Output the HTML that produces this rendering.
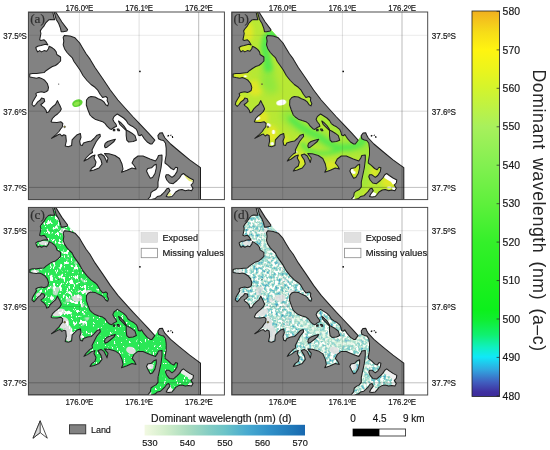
<!DOCTYPE html>
<html><head><meta charset="utf-8"><title>Dominant wavelength maps</title>
<style>html,body{margin:0;padding:0;background:#fff}svg{display:block}</style></head>
<body><svg width="550" height="450" viewBox="0 0 550 450">
<defs><clipPath id="cf"><rect x="28.4" y="12.0" width="196.0" height="187.6"/></clipPath>
<clipPath id="ch"><path d="M67.6,29.6 L67.0,30.9 L63.2,31.7 L61.2,31.7 L60.5,28.4 L58.7,23.5 L56.2,19.5 L54.2,12.0 L52.8,12.0 L53.6,16.0 L54.6,19.8 L50.5,19.5 L48.5,20.1 L46.0,22.6 L44.1,25.8 L41.5,29.0 L40.3,30.9 L40.9,33.5 L40.3,36.6 L39.6,39.8 L40.9,40.5 L44.1,39.8 L46.0,41.7 L47.9,44.9 L45.4,44.3 L42.8,44.9 L40.9,45.5 L37.7,46.2 L35.8,47.5 L36.5,50.0 L37.7,51.9 L39.6,50.6 L41.5,51.9 L44.1,50.6 L46.6,51.3 L48.5,48.7 L49.2,46.2 L51.7,47.5 L54.3,49.4 L56.2,51.9 L56.8,54.5 L58.7,55.7 L60.6,57.0 L60.6,61.0 L58.1,63.5 L55.5,65.5 L52.4,66.5 L49.2,68.5 L46.0,70.7 L44.1,72.6 L40.3,72.9 L36.5,73.4 L32.6,73.4 L29.8,74.0 L29.8,77.0 L32.6,77.6 L36.5,78.2 L39.0,77.6 L41.5,78.4 L44.7,80.3 L47.3,83.5 L48.5,87.3 L47.9,90.5 L46.0,91.7 L44.1,92.4 L41.5,91.7 L37.7,92.4 L35.8,93.6 L36.5,95.5 L34.5,98.7 L32.6,101.9 L32.0,104.5 L33.9,106.4 L35.8,104.5 L37.7,101.9 L40.3,100.0 L41.5,98.1 L44.1,98.7 L44.7,101.3 L42.8,103.2 L40.9,104.5 L41.5,105.7 L44.1,107.6 L46.0,110.2 L46.6,112.7 L48.5,112.1 L50.5,108.9 L53.0,106.4 L55.5,104.5 L57.5,100.6 L58.7,103.2 L60.0,105.7 L61.3,108.9 L60.0,111.5 L57.5,114.0 L54.9,115.9 L52.4,118.5 L51.1,121.6 L52.0,122.3 L57.0,122.5 L61.0,121.8 L62.8,123.5 L62.3,127.0 L60.6,129.0 L59.0,131.5 L55.0,135.5 L51.5,138.3 L56.0,136.0 L58.5,134.5 L60.0,134.1 L61.9,136.0 L63.8,134.7 L65.8,135.6 L66.3,141.1 L65.2,146.0 L68.3,146.8 L71.6,145.6 L72.1,139.8 L74.4,137.3 L77.2,134.7 L80.4,133.5 L81.0,137.3 L79.7,141.1 L80.4,144.9 L82.3,145.5 L83.5,143.0 L87.4,141.7 L91.2,141.1 L94.0,138.5 L97.0,135.2 L100.0,134.2 L100.3,136.5 L98.2,139.0 L96.3,141.5 L94.0,146.0 L92.0,150.0 L92.5,152.5 L90.0,154.0 L86.0,158.0 L84.0,161.0 L88.0,159.0 L92.0,156.0 L95.0,155.0 L94.0,158.0 L96.0,162.0 L95.0,166.0 L92.0,168.0 L90.0,171.0 L94.0,170.0 L99.0,168.0 L102.0,164.0 L101.0,160.0 L99.0,157.0 L98.0,155.0 L101.0,154.0 L104.0,156.0 L106.0,160.0 L107.0,162.5 L108.0,158.0 L105.5,155.0 L104.5,153.5 L109.0,153.8 L115.0,155.5 L119.5,158.5 L122.0,164.0 L123.0,169.0 L121.5,172.3 L127.0,170.3 L132.0,168.0 L136.0,169.0 L134.5,166.0 L132.0,163.0 L134.0,159.0 L138.0,156.0 L143.0,156.0 L150.0,159.0 L155.5,161.0 L157.5,158.0 L158.5,155.5 L162.0,155.0 L162.0,160.0 L161.0,168.0 L159.5,175.0 L158.0,182.0 L158.0,187.0 L156.0,189.5 L153.5,190.7 L151.0,192.6 L150.3,196.5 L147.7,199.6 L151.5,199.6 L155.4,198.4 L157.3,196.5 L160.5,195.8 L162.4,194.0 L165.0,191.4 L166.8,188.8 L168.7,188.2 L170.0,190.7 L167.5,194.0 L166.2,196.5 L168.7,197.0 L172.0,196.5 L173.8,194.5 L175.7,192.0 L179.0,190.0 L182.0,189.5 L185.3,190.7 L188.5,190.0 L191.6,190.7 L193.0,188.2 L191.0,185.0 L193.0,183.0 L193.5,180.0 L189.7,178.0 L186.0,175.5 L183.4,173.5 L181.5,174.8 L179.5,178.0 L177.0,180.5 L173.2,183.7 L169.4,183.0 L166.8,180.0 L165.5,176.7 L166.2,174.8 L168.7,174.8 L172.0,177.4 L174.5,175.5 L177.0,171.6 L177.6,167.8 L175.7,167.2 L173.8,169.7 L171.3,168.5 L168.0,165.3 L165.0,163.0 L165.0,161.5 L166.2,155.0 L166.2,148.4 L165.5,143.3 L163.5,140.5 L161.0,140.0 L158.5,138.8 L157.9,135.6 L154.8,140.2 L152.0,144.0 L150.4,144.0 L147.2,142.0 L144.0,138.3 L141.5,134.5 L140.2,135.7 L138.3,135.0 L137.6,132.0 L136.4,129.4 L133.2,126.8 L130.6,125.5 L128.0,123.6 L126.2,120.5 L123.6,118.0 L120.5,116.0 L117.3,114.0 L115.4,115.4 L114.0,116.6 L112.8,119.2 L114.0,121.7 L116.0,124.3 L116.6,126.2 L114.0,127.5 L111.5,129.4 L109.6,128.7 L107.0,126.2 L105.2,123.6 L102.6,121.7 L98.8,120.5 L95.0,119.2 L92.0,117.0 L90.0,115.0 L88.0,110.0 L86.3,105.0 L86.5,100.0 L88.5,97.5 L91.0,96.5 L95.0,97.0 L98.2,98.7 L101.4,100.0 L103.9,101.9 L105.8,104.8 L107.7,105.9 L108.5,103.5 L107.1,100.6 L107.5,98.0 L105.8,96.5 L102.6,97.5 L100.1,94.3 L97.5,89.8 L95.0,87.3 L91.0,84.5 L87.0,80.5 L83.0,75.5 L80.0,70.0 L76.5,65.0 L74.0,61.5 L72.1,57.6 L69.5,55.1 L67.0,52.5 L64.5,48.7 L63.2,44.9 L63.8,41.1 L63.2,37.3 L64.5,35.4 L70.0,36.0 L75.0,37.8Z"/><path d="M146.5,171.0 L147.7,168.5 L151.5,167.8 L154.0,165.3 L156.3,164.3 L156.3,168.0 L155.0,173.5 L152.5,177.5 L150.3,178.3 L148.4,175.0Z"/></clipPath>
<path id="land" fill-rule="evenodd" d="M28.4,12.0 L52.8,12.0 L53.6,16.0 L54.6,19.8 L50.5,19.5 L48.5,20.1 L46.0,22.6 L44.1,25.8 L41.5,29.0 L40.3,30.9 L40.9,33.5 L40.3,36.6 L39.6,39.8 L40.9,40.5 L44.1,39.8 L46.0,41.7 L47.9,44.9 L45.4,44.3 L42.8,44.9 L40.9,45.5 L37.7,46.2 L35.8,47.5 L36.5,50.0 L37.7,51.9 L39.6,50.6 L41.5,51.9 L44.1,50.6 L46.6,51.3 L48.5,48.7 L49.2,46.2 L51.7,47.5 L54.3,49.4 L56.2,51.9 L56.8,54.5 L58.7,55.7 L60.6,57.0 L60.6,61.0 L58.1,63.5 L55.5,65.5 L52.4,66.5 L49.2,68.5 L46.0,70.7 L44.1,72.6 L40.3,72.9 L36.5,73.4 L32.6,73.4 L29.8,74.0 L29.8,77.0 L32.6,77.6 L36.5,78.2 L39.0,77.6 L41.5,78.4 L44.7,80.3 L47.3,83.5 L48.5,87.3 L47.9,90.5 L46.0,91.7 L44.1,92.4 L41.5,91.7 L37.7,92.4 L35.8,93.6 L36.5,95.5 L34.5,98.7 L32.6,101.9 L32.0,104.5 L33.9,106.4 L35.8,104.5 L37.7,101.9 L40.3,100.0 L41.5,98.1 L44.1,98.7 L44.7,101.3 L42.8,103.2 L40.9,104.5 L41.5,105.7 L44.1,107.6 L46.0,110.2 L46.6,112.7 L48.5,112.1 L50.5,108.9 L53.0,106.4 L55.5,104.5 L57.5,100.6 L58.7,103.2 L60.0,105.7 L61.3,108.9 L60.0,111.5 L57.5,114.0 L54.9,115.9 L52.4,118.5 L51.1,121.6 L52.0,122.3 L57.0,122.5 L61.0,121.8 L62.8,123.5 L62.3,127.0 L60.6,129.0 L59.0,131.5 L55.0,135.5 L51.5,138.3 L56.0,136.0 L58.5,134.5 L60.0,134.1 L61.9,136.0 L63.8,134.7 L65.8,135.6 L66.3,141.1 L65.2,146.0 L68.3,146.8 L71.6,145.6 L72.1,139.8 L74.4,137.3 L77.2,134.7 L80.4,133.5 L81.0,137.3 L79.7,141.1 L80.4,144.9 L82.3,145.5 L83.5,143.0 L87.4,141.7 L91.2,141.1 L94.0,138.5 L97.0,135.2 L100.0,134.2 L100.3,136.5 L98.2,139.0 L96.3,141.5 L94.0,146.0 L92.0,150.0 L92.5,152.5 L90.0,154.0 L86.0,158.0 L84.0,161.0 L88.0,159.0 L92.0,156.0 L95.0,155.0 L94.0,158.0 L96.0,162.0 L95.0,166.0 L92.0,168.0 L90.0,171.0 L94.0,170.0 L99.0,168.0 L102.0,164.0 L101.0,160.0 L99.0,157.0 L98.0,155.0 L101.0,154.0 L104.0,156.0 L106.0,160.0 L107.0,162.5 L108.0,158.0 L105.5,155.0 L104.5,153.5 L109.0,153.8 L115.0,155.5 L119.5,158.5 L122.0,164.0 L123.0,169.0 L121.5,172.3 L127.0,170.3 L132.0,168.0 L136.0,169.0 L134.5,166.0 L132.0,163.0 L134.0,159.0 L138.0,156.0 L143.0,156.0 L150.0,159.0 L155.5,161.0 L157.5,158.0 L158.5,155.5 L162.0,155.0 L162.0,160.0 L161.0,168.0 L159.5,175.0 L158.0,182.0 L158.0,187.0 L156.0,189.5 L153.5,190.7 L151.0,192.6 L150.3,196.5 L147.7,199.6 L28.4,199.6Z M151.5,199.6 L155.4,198.4 L157.3,196.5 L160.5,195.8 L162.4,194.0 L165.0,191.4 L166.8,188.8 L168.7,188.2 L170.0,190.7 L167.5,194.0 L166.2,196.5 L168.7,197.0 L172.0,196.5 L173.8,194.5 L175.7,192.0 L179.0,190.0 L182.0,189.5 L185.3,190.7 L188.5,190.0 L191.6,190.7 L193.0,188.2 L191.0,185.0 L193.0,183.0 L193.5,180.0 L189.7,178.0 L186.0,175.5 L183.4,173.5 L181.5,174.8 L179.5,178.0 L177.0,180.5 L173.2,183.7 L169.4,183.0 L166.8,180.0 L165.5,176.7 L166.2,174.8 L168.7,174.8 L172.0,177.4 L174.5,175.5 L177.0,171.6 L177.6,167.8 L175.7,167.2 L173.8,169.7 L171.3,168.5 L168.0,165.3 L165.0,163.0 L165.0,161.5 L166.2,155.0 L166.2,148.4 L165.5,143.3 L163.5,140.5 L161.0,140.0 L158.5,138.8 L157.9,135.6 L159.8,133.0 L162.4,132.8 L163.6,135.6 L165.0,138.0 L170.6,144.0 L179.5,151.5 L189.7,159.8 L200.5,167.7 L200.5,199.6Z M154.8,140.2 L152.0,144.0 L150.4,144.0 L147.2,142.0 L144.0,138.3 L141.5,134.5 L140.2,135.7 L138.3,135.0 L137.6,132.0 L136.4,129.4 L133.2,126.8 L130.6,125.5 L128.0,123.6 L126.2,120.5 L123.6,118.0 L120.5,116.0 L117.3,114.0 L115.4,115.4 L114.0,116.6 L112.8,119.2 L114.0,121.7 L116.0,124.3 L116.6,126.2 L114.0,127.5 L111.5,129.4 L109.6,128.7 L107.0,126.2 L105.2,123.6 L102.6,121.7 L98.8,120.5 L95.0,119.2 L92.0,117.0 L90.0,115.0 L88.0,110.0 L86.3,105.0 L86.5,100.0 L88.5,97.5 L91.0,96.5 L95.0,97.0 L98.2,98.7 L101.4,100.0 L103.9,101.9 L105.8,104.8 L107.7,105.9 L108.5,103.5 L107.1,100.6 L107.5,98.0 L105.8,96.5 L102.6,97.5 L100.1,94.3 L97.5,89.8 L95.0,87.3 L91.0,84.5 L87.0,80.5 L83.0,75.5 L80.0,70.0 L76.5,65.0 L74.0,61.5 L72.1,57.6 L69.5,55.1 L67.0,52.5 L64.5,48.7 L63.2,44.9 L63.8,41.1 L63.2,37.3 L64.5,35.4 L70.0,36.0 L75.0,37.8 L79.7,43.0 L82.3,47.5 L86.1,53.8 L89.9,58.9 L95.0,67.5 L102.6,78.5 L110.3,90.0 L117.9,100.0 L125.5,108.5 L133.2,117.0 L139.5,123.6 L148.5,133.2Z M54.2,12.0 L55.7,12.0 L61.9,22.0 L67.6,29.6 L67.0,30.9 L63.2,31.7 L61.2,31.7 L60.5,28.4 L58.7,23.5 L56.2,19.5Z M126.2,130.0 L128.7,131.3 L131.9,133.2 L135.0,135.7 L136.4,140.2 L133.2,141.5 L128.7,142.0 L126.8,140.2 L126.2,135.7Z M118.5,121.0 L120.5,122.4 L123.6,125.5 L126.2,129.4 L125.5,130.0 L122.4,126.8 L119.8,124.3Z M104.5,146.0 L105.2,143.4 L107.7,141.5 L111.5,140.2 L115.4,139.2 L114.0,141.5 L110.3,144.6 L107.0,147.2 L105.2,147.8Z M113.3,129.5 L114.8,129.3 L114.8,130.8 L113.3,130.8Z M117.2,129.0 L118.8,129.0 L119.6,130.8 L118.0,130.8Z M146.5,171.0 L147.7,168.5 L151.5,167.8 L154.0,165.3 L156.3,164.3 L156.3,168.0 L155.0,173.5 L152.5,177.5 L150.3,178.3 L148.4,175.0Z" fill="#828282" stroke="#1e1e1e" stroke-width="1.05" stroke-linejoin="round"/>
<path id="lag" d="M146.5,171.0 L147.7,168.5 L151.5,167.8 L154.0,165.3 L156.3,164.3 L156.3,168.0 L155.0,173.5 L152.5,177.5 L150.3,178.3 L148.4,175.0Z" stroke="#1e1e1e" stroke-width="0.7" stroke-linejoin="round"/>
<linearGradient id="gv" x1="0" y1="0" x2="0" y2="1"><stop offset="0" stop-color="#f0b020"/><stop offset="0.03" stop-color="#f4c81c"/><stop offset="0.055" stop-color="#f6dc18"/><stop offset="0.1" stop-color="#fff410"/><stop offset="0.15" stop-color="#ecf41c"/><stop offset="0.2" stop-color="#d4f42c"/><stop offset="0.3" stop-color="#a8f05c"/><stop offset="0.4" stop-color="#82f050"/><stop offset="0.5" stop-color="#5ef03c"/><stop offset="0.6" stop-color="#34f02a"/><stop offset="0.7" stop-color="#1ef01e"/><stop offset="0.776" stop-color="#0cf01c"/><stop offset="0.8" stop-color="#10ee30"/><stop offset="0.84" stop-color="#10f070"/><stop offset="0.872" stop-color="#10f0c0"/><stop offset="0.8975" stop-color="#10e8f8"/><stop offset="0.93" stop-color="#30a8e0"/><stop offset="0.962" stop-color="#4060c0"/><stop offset="0.988" stop-color="#4030a0"/><stop offset="1" stop-color="#3c2c9c"/></linearGradient>
<linearGradient id="gh" x1="0" y1="0" x2="1" y2="0"><stop offset="0" stop-color="#f2f9e2"/><stop offset="0.13" stop-color="#d2eecb"/><stop offset="0.27" stop-color="#aadcc0"/><stop offset="0.41" stop-color="#82ccc4"/><stop offset="0.5" stop-color="#6cc4c8"/><stop offset="0.64" stop-color="#48aad0"/><stop offset="0.78" stop-color="#3090c8"/><stop offset="0.92" stop-color="#2078b8"/><stop offset="1" stop-color="#1868b0"/></linearGradient>
<filter id="b2" x="-20%" y="-20%" width="140%" height="140%"><feGaussianBlur stdDeviation="1.9"/></filter>
<filter id="b3" x="-20%" y="-20%" width="140%" height="140%"><feGaussianBlur stdDeviation="3.5"/></filter>
<filter id="b05" x="-20%" y="-20%" width="140%" height="140%"><feGaussianBlur stdDeviation="0.45"/></filter>
<filter id="b1" x="-20%" y="-20%" width="140%" height="140%"><feGaussianBlur stdDeviation="1"/></filter>
<filter id="nd" x="0" y="0" width="100%" height="100%" color-interpolation-filters="sRGB">
<feTurbulence type="fractalNoise" baseFrequency="0.36" numOctaves="2" seed="3" result="t"/>
<feColorMatrix type="matrix" values="1.9 0 0 0 -0.37  1.9 0 0 0 -0.37  1.9 0 0 0 -0.37  0 0 0 0 1"/>
<feComponentTransfer>
<feFuncR type="discrete" tableValues="0.290 0.365 0.431 0.482 0.549 0.627 0.722 0.831 0.941 1.000 1.000"/>
<feFuncG type="discrete" tableValues="0.624 0.714 0.761 0.800 0.824 0.855 0.890 0.933 0.976 1.000 1.000"/>
<feFuncB type="discrete" tableValues="0.792 0.800 0.800 0.784 0.800 0.808 0.824 0.867 0.941 1.000 1.000"/>
</feComponentTransfer></filter>
<filter id="nc" x="0" y="0" width="100%" height="100%" color-interpolation-filters="sRGB">
<feTurbulence type="fractalNoise" baseFrequency="0.42 0.3" numOctaves="2" seed="7" result="t"/>
<feColorMatrix type="matrix" values="0 0 0 0 1  0 0 0 0 1  0 0 0 0 1  16 0 0 0 -10.5"/>
</filter>
<filter id="nc2" x="0" y="0" width="100%" height="100%" color-interpolation-filters="sRGB">
<feTurbulence type="fractalNoise" baseFrequency="0.3 0.2" numOctaves="2" seed="23" result="t"/>
<feColorMatrix type="matrix" values="0 0 0 0 1  0 0 0 0 1  0 0 0 0 1  14 0 0 0 -8.3"/>
</filter>
<filter id="ng" x="0" y="0" width="100%" height="100%" color-interpolation-filters="sRGB">
<feTurbulence type="fractalNoise" baseFrequency="0.1" numOctaves="2" seed="11" result="t"/>
<feColorMatrix type="matrix" values="0 0 0 0 0.86  0 0 0 0 0.86  0 0 0 0 0.86  0 12 0 0 -7.9"/>
</filter></defs>
<rect width="550" height="450" fill="#fff"/>
<g transform="translate(0.0,0.0)"><g clip-path="url(#cf)"><rect x="28.4" y="12.0" width="196.0" height="187.6" fill="#fff"/><ellipse cx="77.4" cy="103.2" rx="5.4" ry="3.6" transform="rotate(-20 77.4 103.2)" fill="#62d436"/><ellipse cx="77" cy="103.6" rx="3.2" ry="1.7" transform="rotate(-20 77 103.6)" fill="#8ee648"/><path d="M184,175 L188,176.5 L192,179.5 L193,182 L189,181 L186,178Z" fill="#e6ea5a" opacity="0.8"/><path d="M167,194 L170,192.5 L172,195 L168,196.5Z" fill="#eaf07a" opacity="0.8"/><use href="#land"/><rect x="139.1" y="70.7" width="1.6" height="1.5" fill="#111"/><circle cx="58.7" cy="84.1" r="0.6" fill="#444"/><circle cx="64.6" cy="126.8" r="0.9" fill="#9a8c34" stroke="#2a2a2a" stroke-width="0.5"/><path d="M167.5,136.2 l1.5,-0.8 M170.5,135 l0.8,0.6 M172.3,136.2 l0.4,1.6" stroke="#000" stroke-width="1.2" fill="none"/><g stroke="#000" stroke-width="0.6"><line x1="79.4" y1="12.0" x2="79.4" y2="199.6" stroke-opacity="0.20"/><line x1="139.1" y1="12.0" x2="139.1" y2="199.6" stroke-opacity="0.22"/><line x1="198.7" y1="12.0" x2="198.7" y2="199.6" stroke-opacity="0.45"/><line x1="28.4" y1="35.3" x2="224.4" y2="35.3" stroke-opacity="0.14"/><line x1="28.4" y1="111.2" x2="224.4" y2="111.2" stroke-opacity="0.26"/><line x1="28.4" y1="187.4" x2="224.4" y2="187.4" stroke-opacity="0.42"/></g><text x="30.2" y="23.2" font-family="'Liberation Serif',serif" font-size="13.2" fill="#2e2e2e" stroke="#2e2e2e" stroke-width="0.2">(a)</text></g><rect x="28.4" y="12.0" width="196.0" height="187.6" fill="none" stroke="#444" stroke-width="0.95"/></g>
<g transform="translate(203.3,0.0)"><g clip-path="url(#cf)"><rect x="28.4" y="12.0" width="196.0" height="187.6" fill="#fff"/><g clip-path="url(#ch)"><rect x="28.4" y="12.0" width="196.0" height="187.6" fill="#b8e834"/><g filter="url(#b2)" fill="#e0e826"><ellipse cx="45.0" cy="32.0" rx="5.0" ry="10.0"/><ellipse cx="41.0" cy="48.0" rx="6.0" ry="3.0"/><ellipse cx="37.0" cy="75.0" rx="9.0" ry="3.0"/><ellipse cx="52.0" cy="88.0" rx="8.0" ry="8.0"/><ellipse cx="38.0" cy="100.0" rx="6.0" ry="4.0"/><ellipse cx="58.0" cy="118.0" rx="7.0" ry="8.0"/><ellipse cx="68.0" cy="134.0" rx="7.0" ry="9.0"/><ellipse cx="82.0" cy="140.0" rx="3.0" ry="5.0"/><ellipse cx="170.0" cy="172.0" rx="5.0" ry="5.0"/><ellipse cx="186.0" cy="182.0" rx="8.0" ry="6.0"/><ellipse cx="152.0" cy="172.0" rx="4.0" ry="5.0"/><ellipse cx="95.0" cy="160.0" rx="8.0" ry="7.0"/><ellipse cx="97.0" cy="140.0" rx="3.0" ry="5.0"/><ellipse cx="128.0" cy="165.0" rx="6.0" ry="4.0"/><ellipse cx="160.0" cy="192.0" rx="5.0" ry="5.0"/></g><g filter="url(#b3)" fill="none" stroke-linecap="round" stroke-linejoin="round"><path d="M62,66 L60,86 M66,66 L72,90 M64,70 L66,92" stroke="#90e83e" stroke-width="6"/><path d="M84,116 L95,125 L105,131 L115,136 L125,143 L135,147 L146,147 L156,145 L161,141" stroke="#90e83e" stroke-width="13"/><path d="M162,148 L164,162 L162,176 L160,188 L156,196" stroke="#90e83e" stroke-width="5"/></g><g filter="url(#b2)" fill="none" stroke-linecap="round" stroke-linejoin="round"><path d="M74,35 L67.5,33.5 L63,39 L61.5,48 L63.5,58 L65,68" stroke="#54e84e" stroke-width="8.5"/><path d="M88,119 L96,126 L105,131.5 L115,136 L125,143 L135,147.5 L146,147.5 L155,145 L160,141 L160,137" stroke="#54e84e" stroke-width="5.5"/><path d="M98,143 L104,150 L115,153.5 L125,153 L136,150" stroke="#54e84e" stroke-width="3.5"/><path d="M118,118 L125,124 L134,130 L140,138" stroke="#90e83e" stroke-width="2.5"/></g><g fill="#fff" filter="url(#b05)"><ellipse cx="78.0" cy="102.6" rx="5.0" ry="2.8" transform="rotate(-12 78.0 102.6)"/><ellipse cx="54.3" cy="118.3" rx="2.6" ry="1.8" transform="rotate(-20 54.3 118.3)"/><ellipse cx="65.3" cy="125.0" rx="2.4" ry="1.6" transform="rotate(30 65.3 125.0)"/><ellipse cx="70.2" cy="132.0" rx="1.6" ry="2.2" transform="rotate(0 70.2 132.0)"/><ellipse cx="69.0" cy="143.8" rx="1.8" ry="1.8" transform="rotate(0 69.0 143.8)"/><ellipse cx="42.0" cy="76.3" rx="1.6" ry="1.0" transform="rotate(0 42.0 76.3)"/><ellipse cx="189.5" cy="177.5" rx="4.5" ry="2.0" transform="rotate(30 189.5 177.5)"/><ellipse cx="150.5" cy="172.5" rx="1.8" ry="1.5" transform="rotate(0 150.5 172.5)"/><ellipse cx="168.0" cy="194.5" rx="1.5" ry="1.2" transform="rotate(0 168.0 194.5)"/><ellipse cx="186.0" cy="187.5" rx="2.5" ry="1.0" transform="rotate(0 186.0 187.5)"/><ellipse cx="93.0" cy="152.0" rx="1.0" ry="1.3" transform="rotate(0 93.0 152.0)"/><ellipse cx="147.5" cy="199.0" rx="2.0" ry="1.0" transform="rotate(0 147.5 199.0)"/></g><g fill="#fff" opacity="1" filter="url(#b05)"><path d="M180,174.8 L183.2,173 L187.6,175.6 L193.5,180 L192.6,183.9 L189.5,184.4 L187.6,181.8 L184.4,179.9 L181.2,178Z"/><path d="M166.5,194 L170,192 L173,193.5 L172,196.8 L167,197.2Z"/><path d="M188.9,187 L192.7,187.5 L192.5,190.7 L189,190.5Z"/><path d="M146.8,170.8 L148,168.6 L150.5,169.5 L150,172.5 L148.2,173.5Z"/><path d="M147.7,199.6 L150,196 L151.5,196.5 L151,199.6Z"/></g><circle cx="58.7" cy="84.1" r="0.7" fill="#7a5a30"/></g><use href="#land"/><rect x="139.1" y="70.7" width="1.6" height="1.5" fill="#111"/><circle cx="58.7" cy="84.1" r="0.6" fill="#444"/><circle cx="64.6" cy="126.8" r="0.9" fill="#9a8c34" stroke="#2a2a2a" stroke-width="0.5"/><path d="M167.5,136.2 l1.5,-0.8 M170.5,135 l0.8,0.6 M172.3,136.2 l0.4,1.6" stroke="#000" stroke-width="1.2" fill="none"/><g stroke="#000" stroke-width="0.6"><line x1="79.4" y1="12.0" x2="79.4" y2="199.6" stroke-opacity="0.20"/><line x1="139.1" y1="12.0" x2="139.1" y2="199.6" stroke-opacity="0.22"/><line x1="198.7" y1="12.0" x2="198.7" y2="199.6" stroke-opacity="0.45"/><line x1="28.4" y1="35.3" x2="224.4" y2="35.3" stroke-opacity="0.14"/><line x1="28.4" y1="111.2" x2="224.4" y2="111.2" stroke-opacity="0.26"/><line x1="28.4" y1="187.4" x2="224.4" y2="187.4" stroke-opacity="0.42"/></g><text x="30.2" y="23.2" font-family="'Liberation Serif',serif" font-size="13.2" fill="#2e2e2e" stroke="#2e2e2e" stroke-width="0.2">(b)</text></g><rect x="28.4" y="12.0" width="196.0" height="187.6" fill="none" stroke="#444" stroke-width="0.95"/></g>
<g transform="translate(0.0,195.4)"><g clip-path="url(#cf)"><rect x="28.4" y="12.0" width="196.0" height="187.6" fill="#fff"/><g clip-path="url(#ch)"><rect x="28.4" y="12.0" width="196.0" height="187.6" fill="#2ae856"/><g fill="#dedede" opacity="1" filter="url(#b05)"><ellipse cx="77.3" cy="102.8" rx="5.0" ry="3.6" transform="rotate(-10 77.3 102.8)"/><ellipse cx="58.5" cy="117.0" rx="7.0" ry="3.6" transform="rotate(-15 58.5 117.0)"/><ellipse cx="63.5" cy="127.5" rx="5.5" ry="6.0" transform="rotate(0 63.5 127.5)"/><ellipse cx="68.5" cy="138.0" rx="4.2" ry="8.0" transform="rotate(0 68.5 138.0)"/><ellipse cx="54.0" cy="108.0" rx="2.5" ry="4.0" transform="rotate(20 54.0 108.0)"/><ellipse cx="88.5" cy="96.3" rx="3.5" ry="1.8" transform="rotate(0 88.5 96.3)"/><ellipse cx="40.0" cy="99.5" rx="4.0" ry="2.5" transform="rotate(0 40.0 99.5)"/><ellipse cx="35.0" cy="76.0" rx="4.0" ry="1.3" transform="rotate(0 35.0 76.0)"/><ellipse cx="80.5" cy="140.0" rx="1.6" ry="4.5" transform="rotate(0 80.5 140.0)"/><ellipse cx="131.0" cy="155.0" rx="5.0" ry="3.5" transform="rotate(20 131.0 155.0)"/><ellipse cx="150.5" cy="171.0" rx="3.0" ry="3.0" transform="rotate(0 150.5 171.0)"/><ellipse cx="44.0" cy="47.5" rx="5.0" ry="2.0" transform="rotate(0 44.0 47.5)"/><ellipse cx="97.0" cy="139.0" rx="1.6" ry="3.0" transform="rotate(30 97.0 139.0)"/><ellipse cx="103.0" cy="159.0" rx="1.5" ry="3.0" transform="rotate(0 103.0 159.0)"/><ellipse cx="92.0" cy="165.0" rx="2.5" ry="2.0" transform="rotate(0 92.0 165.0)"/></g><rect x="28.4" y="12.0" width="70.0" height="187.6" filter="url(#ng)" opacity="0.8"/><rect x="28.4" y="12.0" width="196.0" height="187.6" filter="url(#nc)"/><rect x="28.4" y="12.0" width="58.0" height="150.0" filter="url(#nc2)"/><g fill="#ececec" opacity="1" filter="url(#b05)"><path d="M180,174.8 L183.2,173 L187.6,175.6 L193.5,180 L192.6,183.9 L189.5,184.4 L187.6,181.8 L184.4,179.9 L181.2,178Z"/><path d="M166.5,194 L170,192 L173,193.5 L172,196.8 L167,197.2Z"/><path d="M188.9,187 L192.7,187.5 L192.5,190.7 L189,190.5Z"/><path d="M146.8,170.8 L148,168.6 L150.5,169.5 L150,172.5 L148.2,173.5Z"/><path d="M147.7,199.6 L150,196 L151.5,196.5 L151,199.6Z"/></g></g><use href="#land"/><rect x="139.1" y="70.7" width="1.6" height="1.5" fill="#111"/><circle cx="58.7" cy="84.1" r="0.6" fill="#444"/><circle cx="64.6" cy="126.8" r="0.9" fill="#9a8c34" stroke="#2a2a2a" stroke-width="0.5"/><path d="M167.5,136.2 l1.5,-0.8 M170.5,135 l0.8,0.6 M172.3,136.2 l0.4,1.6" stroke="#000" stroke-width="1.2" fill="none"/><g stroke="#000" stroke-width="0.6"><line x1="79.4" y1="12.0" x2="79.4" y2="199.6" stroke-opacity="0.20"/><line x1="139.1" y1="12.0" x2="139.1" y2="199.6" stroke-opacity="0.22"/><line x1="198.7" y1="12.0" x2="198.7" y2="199.6" stroke-opacity="0.45"/><line x1="28.4" y1="35.3" x2="224.4" y2="35.3" stroke-opacity="0.14"/><line x1="28.4" y1="111.2" x2="224.4" y2="111.2" stroke-opacity="0.26"/><line x1="28.4" y1="187.4" x2="224.4" y2="187.4" stroke-opacity="0.42"/></g><text x="30.2" y="23.2" font-family="'Liberation Serif',serif" font-size="13.2" fill="#2e2e2e" stroke="#2e2e2e" stroke-width="0.2">(c)</text></g><rect x="28.4" y="12.0" width="196.0" height="187.6" fill="none" stroke="#444" stroke-width="0.95"/></g>
<g transform="translate(203.3,195.4)"><g clip-path="url(#cf)"><rect x="28.4" y="12.0" width="196.0" height="187.6" fill="#fff"/><g clip-path="url(#ch)"><rect x="28.4" y="12.0" width="196.0" height="187.6" filter="url(#nd)"/><g filter="url(#b2)" fill="none" stroke="#d2f0d6" stroke-opacity="0.62" stroke-linecap="round" stroke-linejoin="round"><path d="M92,122 L105,131.5 L115,136 L125,143 L135,147.5 L146,147.5 L155,145 L160,141 L160,137" stroke-width="6"/><path d="M98,143 L104,150 L115,153.5 L125,153 L136,150" stroke-width="3.5"/><path d="M72,34 L66,35 L62,42 L62,52 L64,62" stroke-width="4"/><path d="M162,148 L164,162 L162,176 L160,188" stroke-width="3"/></g><g fill="#e2e2e2" opacity="0.9" filter="url(#b05)"><ellipse cx="77.3" cy="102.8" rx="5.0" ry="3.6" transform="rotate(-10 77.3 102.8)"/><ellipse cx="58.5" cy="117.0" rx="7.0" ry="3.6" transform="rotate(-15 58.5 117.0)"/><ellipse cx="63.5" cy="127.5" rx="5.5" ry="6.0" transform="rotate(0 63.5 127.5)"/><ellipse cx="68.5" cy="138.0" rx="4.2" ry="8.0" transform="rotate(0 68.5 138.0)"/><ellipse cx="54.0" cy="108.0" rx="2.5" ry="4.0" transform="rotate(20 54.0 108.0)"/><ellipse cx="88.5" cy="96.3" rx="3.5" ry="1.8" transform="rotate(0 88.5 96.3)"/><ellipse cx="40.0" cy="99.5" rx="4.0" ry="2.5" transform="rotate(0 40.0 99.5)"/><ellipse cx="35.0" cy="76.0" rx="4.0" ry="1.3" transform="rotate(0 35.0 76.0)"/><ellipse cx="80.5" cy="140.0" rx="1.6" ry="4.5" transform="rotate(0 80.5 140.0)"/><ellipse cx="131.0" cy="155.0" rx="5.0" ry="3.5" transform="rotate(20 131.0 155.0)"/><ellipse cx="150.5" cy="171.0" rx="3.0" ry="3.0" transform="rotate(0 150.5 171.0)"/><ellipse cx="44.0" cy="47.5" rx="5.0" ry="2.0" transform="rotate(0 44.0 47.5)"/><ellipse cx="97.0" cy="139.0" rx="1.6" ry="3.0" transform="rotate(30 97.0 139.0)"/><ellipse cx="103.0" cy="159.0" rx="1.5" ry="3.0" transform="rotate(0 103.0 159.0)"/><ellipse cx="92.0" cy="165.0" rx="2.5" ry="2.0" transform="rotate(0 92.0 165.0)"/></g><rect x="28.4" y="12.0" width="70.0" height="187.6" filter="url(#ng)" opacity="0.7"/><g fill="#f0f0f0" opacity="1" filter="url(#b05)"><path d="M180,174.8 L183.2,173 L187.6,175.6 L193.5,180 L192.6,183.9 L189.5,184.4 L187.6,181.8 L184.4,179.9 L181.2,178Z"/><path d="M166.5,194 L170,192 L173,193.5 L172,196.8 L167,197.2Z"/><path d="M188.9,187 L192.7,187.5 L192.5,190.7 L189,190.5Z"/><path d="M146.8,170.8 L148,168.6 L150.5,169.5 L150,172.5 L148.2,173.5Z"/><path d="M147.7,199.6 L150,196 L151.5,196.5 L151,199.6Z"/></g></g><use href="#land"/><rect x="139.1" y="70.7" width="1.6" height="1.5" fill="#111"/><circle cx="58.7" cy="84.1" r="0.6" fill="#444"/><circle cx="64.6" cy="126.8" r="0.9" fill="#9a8c34" stroke="#2a2a2a" stroke-width="0.5"/><path d="M167.5,136.2 l1.5,-0.8 M170.5,135 l0.8,0.6 M172.3,136.2 l0.4,1.6" stroke="#000" stroke-width="1.2" fill="none"/><g stroke="#000" stroke-width="0.6"><line x1="79.4" y1="12.0" x2="79.4" y2="199.6" stroke-opacity="0.20"/><line x1="139.1" y1="12.0" x2="139.1" y2="199.6" stroke-opacity="0.22"/><line x1="198.7" y1="12.0" x2="198.7" y2="199.6" stroke-opacity="0.45"/><line x1="28.4" y1="35.3" x2="224.4" y2="35.3" stroke-opacity="0.14"/><line x1="28.4" y1="111.2" x2="224.4" y2="111.2" stroke-opacity="0.26"/><line x1="28.4" y1="187.4" x2="224.4" y2="187.4" stroke-opacity="0.42"/></g><text x="30.2" y="23.2" font-family="'Liberation Serif',serif" font-size="13.2" fill="#2e2e2e" stroke="#2e2e2e" stroke-width="0.2">(d)</text></g><rect x="28.4" y="12.0" width="196.0" height="187.6" fill="none" stroke="#444" stroke-width="0.95"/></g>
<g font-family="'Liberation Sans',sans-serif" stroke="#161616" stroke-width="0.18"><text transform="translate(65.50,10.60) scale(0.9253,1)" font-size="8.5" fill="#161616" >176.0ºE</text><text transform="translate(65.50,404.90) scale(0.9253,1)" font-size="8.5" fill="#161616" >176.0ºE</text><text transform="translate(125.20,10.60) scale(0.9253,1)" font-size="8.5" fill="#161616" >176.1ºE</text><text transform="translate(125.20,404.90) scale(0.9253,1)" font-size="8.5" fill="#161616" >176.1ºE</text><text transform="translate(185.00,10.60) scale(0.9253,1)" font-size="8.5" fill="#161616" >176.2ºE</text><text transform="translate(185.00,404.90) scale(0.9253,1)" font-size="8.5" fill="#161616" >176.2ºE</text><text transform="translate(268.80,10.60) scale(0.9253,1)" font-size="8.5" fill="#161616" >176.0ºE</text><text transform="translate(268.80,404.90) scale(0.9253,1)" font-size="8.5" fill="#161616" >176.0ºE</text><text transform="translate(328.50,10.60) scale(0.9253,1)" font-size="8.5" fill="#161616" >176.1ºE</text><text transform="translate(328.50,404.90) scale(0.9253,1)" font-size="8.5" fill="#161616" >176.1ºE</text><text transform="translate(388.30,10.60) scale(0.9253,1)" font-size="8.5" fill="#161616" >176.2ºE</text><text transform="translate(388.30,404.90) scale(0.9253,1)" font-size="8.5" fill="#161616" >176.2ºE</text><text transform="translate(3.30,38.70) scale(0.9321,1)" font-size="8.5" fill="#161616" >37.5ºS</text><text transform="translate(431.80,38.70) scale(0.9558,1)" font-size="8.5" fill="#161616" >37.5ºS</text><text transform="translate(3.30,114.60) scale(0.9321,1)" font-size="8.5" fill="#161616" >37.6ºS</text><text transform="translate(431.80,114.60) scale(0.9558,1)" font-size="8.5" fill="#161616" >37.6ºS</text><text transform="translate(3.30,190.80) scale(0.9321,1)" font-size="8.5" fill="#161616" >37.7ºS</text><text transform="translate(431.80,190.80) scale(0.9558,1)" font-size="8.5" fill="#161616" >37.7ºS</text><text transform="translate(3.30,234.10) scale(0.9321,1)" font-size="8.5" fill="#161616" >37.5ºS</text><text transform="translate(431.80,234.10) scale(0.9558,1)" font-size="8.5" fill="#161616" >37.5ºS</text><text transform="translate(3.30,310.00) scale(0.9321,1)" font-size="8.5" fill="#161616" >37.6ºS</text><text transform="translate(431.80,310.00) scale(0.9558,1)" font-size="8.5" fill="#161616" >37.6ºS</text><text transform="translate(3.30,386.20) scale(0.9321,1)" font-size="8.5" fill="#161616" >37.7ºS</text><text transform="translate(431.80,386.20) scale(0.9558,1)" font-size="8.5" fill="#161616" >37.7ºS</text><rect x="141.0" y="232.5" width="16.6" height="9.8" fill="#e0e0e0" stroke="#d2d2d2" stroke-width="0.6"/><rect x="141.2" y="248.3" width="16.4" height="9.4" fill="#fff" stroke="#8a8a8a" stroke-width="0.8"/><text transform="translate(162.40,241.40) scale(0.9334,1)" font-size="9.8" fill="#161616" >Exposed</text><text transform="translate(162.40,256.40) scale(0.9584,1)" font-size="9.8" fill="#161616" >Missing values</text><rect x="344.3" y="232.5" width="16.6" height="9.8" fill="#e0e0e0" stroke="#d2d2d2" stroke-width="0.6"/><rect x="344.5" y="248.3" width="16.4" height="9.4" fill="#fff" stroke="#8a8a8a" stroke-width="0.8"/><text transform="translate(365.70,241.40) scale(0.9334,1)" font-size="9.8" fill="#161616" >Exposed</text><text transform="translate(365.70,256.40) scale(0.9584,1)" font-size="9.8" fill="#161616" >Missing values</text><path d="M40.2,420.8 L33,438.2 L40.2,432.6 L47.3,438.2Z" fill="#fff" stroke="#222" stroke-width="0.8" stroke-linejoin="miter"/><path d="M40.2,420.8 L33,438.2 L40.2,432.6Z" fill="#d8d8d8" stroke="#222" stroke-width="0.8"/><rect x="69.5" y="424.8" width="16.2" height="9" fill="#828282" stroke="#3a3a3a" stroke-width="1"/><text transform="translate(90.90,433.00) scale(0.9081,1)" font-size="9.9" fill="#161616" >Land</text><text transform="translate(151.10,421.80) scale(1.0241,1)" font-size="10.2" fill="#161616" >Dominant wavelength (nm) (d)</text><rect x="144.6" y="424.8" width="160.4" height="10.7" fill="url(#gh)" stroke="none"/><text transform="translate(142.25,446.10) scale(0.9652,1)" font-size="9.5" fill="#161616" >530</text><text transform="translate(179.80,446.10) scale(0.9652,1)" font-size="9.5" fill="#161616" >540</text><text transform="translate(217.35,446.10) scale(0.9652,1)" font-size="9.5" fill="#161616" >550</text><text transform="translate(254.90,446.10) scale(0.9652,1)" font-size="9.5" fill="#161616" >560</text><text transform="translate(292.45,446.10) scale(0.9652,1)" font-size="9.5" fill="#161616" >570</text><text x="353.0" y="422.2" font-size="10.0" text-anchor="middle" fill="#161616" >0</text><text transform="translate(372.80,422.20) scale(0.9927,1)" font-size="10.0" fill="#161616" >4.5</text><text transform="translate(403.00,422.20) scale(0.9968,1)" font-size="10.0" fill="#161616" >9 km</text><rect x="353" y="429" width="52.6" height="7" fill="#fff" stroke="#222" stroke-width="0.8"/><rect x="353" y="429" width="26.4" height="7" fill="#000" stroke="none"/><rect x="472" y="11" width="27.6" height="385.5" fill="url(#gv)" stroke="#222" stroke-width="0.8"/><line x1="496.6" y1="11.4" x2="499.6" y2="11.4" stroke="#222" stroke-width="0.7"/><text transform="translate(502.60,15.10) scale(1.0027,1)" font-size="10.4" fill="#161616" >580</text><line x1="496.6" y1="49.9" x2="499.6" y2="49.9" stroke="#222" stroke-width="0.7"/><text transform="translate(502.60,53.55) scale(1.0027,1)" font-size="10.4" fill="#161616" >570</text><line x1="496.6" y1="88.3" x2="499.6" y2="88.3" stroke="#222" stroke-width="0.7"/><text transform="translate(502.60,92.00) scale(1.0027,1)" font-size="10.4" fill="#161616" >560</text><line x1="496.6" y1="126.8" x2="499.6" y2="126.8" stroke="#222" stroke-width="0.7"/><text transform="translate(502.60,130.45) scale(1.0027,1)" font-size="10.4" fill="#161616" >550</text><line x1="496.6" y1="165.2" x2="499.6" y2="165.2" stroke="#222" stroke-width="0.7"/><text transform="translate(502.60,168.90) scale(1.0027,1)" font-size="10.4" fill="#161616" >540</text><line x1="496.6" y1="203.7" x2="499.6" y2="203.7" stroke="#222" stroke-width="0.7"/><text transform="translate(502.60,207.35) scale(1.0027,1)" font-size="10.4" fill="#161616" >530</text><line x1="496.6" y1="242.1" x2="499.6" y2="242.1" stroke="#222" stroke-width="0.7"/><text transform="translate(502.60,245.80) scale(1.0027,1)" font-size="10.4" fill="#161616" >520</text><line x1="496.6" y1="280.6" x2="499.6" y2="280.6" stroke="#222" stroke-width="0.7"/><text transform="translate(502.60,284.25) scale(1.0027,1)" font-size="10.4" fill="#161616" >510</text><line x1="496.6" y1="319.0" x2="499.6" y2="319.0" stroke="#222" stroke-width="0.7"/><text transform="translate(502.60,322.70) scale(1.0027,1)" font-size="10.4" fill="#161616" >500</text><line x1="496.6" y1="357.4" x2="499.6" y2="357.4" stroke="#222" stroke-width="0.7"/><text transform="translate(502.60,361.15) scale(1.0027,1)" font-size="10.4" fill="#161616" >490</text><line x1="496.6" y1="395.9" x2="499.6" y2="395.9" stroke="#222" stroke-width="0.7"/><text transform="translate(502.60,399.60) scale(1.0027,1)" font-size="10.4" fill="#161616" >480</text><text transform="translate(533,69.4) rotate(90) scale(0.975,1)" font-size="18.2" fill="#262626" stroke="none" letter-spacing="0.56" word-spacing="2.9">Dominant wavelength (nm) (a–c)</text></g>
</svg></body></html>
